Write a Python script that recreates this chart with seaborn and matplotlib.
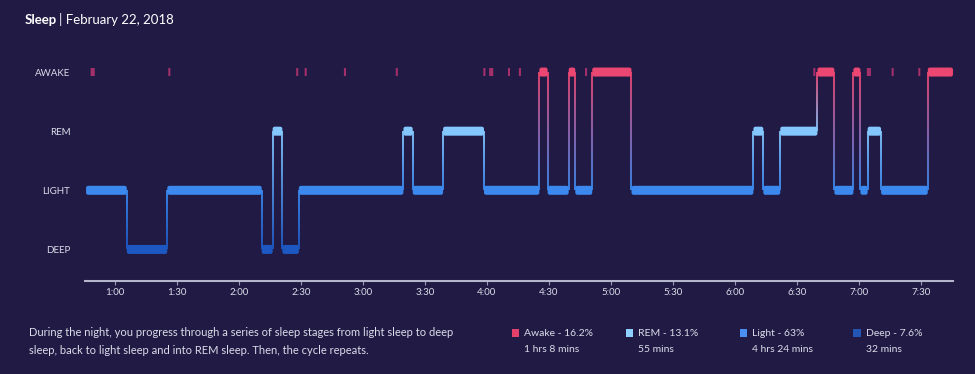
import matplotlib
matplotlib.use("Agg")
import matplotlib.pyplot as plt
from matplotlib.patches import Rectangle
from matplotlib.collections import LineCollection
import numpy as np
import seaborn as sns

# stage rows, bottom to top
stage_names = ["DEEP", "LIGHT", "REM", "AWAKE"]
stage_colors = {"AWAKE": "#ec4672", "REM": "#84c7ff", "LIGHT": "#3b89ef", "DEEP": "#1d58c2"}

# hypnogram: stage of each segment and its start (minutes after midnight)
seg_stage = ["LIGHT", "DEEP", "LIGHT", "DEEP", "REM", "DEEP", "LIGHT", "REM", "LIGHT",
             "REM", "LIGHT", "AWAKE", "LIGHT", "AWAKE", "LIGHT", "AWAKE", "LIGHT", "REM",
             "LIGHT", "REM", "AWAKE", "LIGHT", "AWAKE", "LIGHT", "REM", "LIGHT", "AWAKE"]
seg_start = [46, 65.7, 85.3, 131, 136.3, 141, 149, 199.6, 204.1,
             218.8, 238.6, 265.4, 269.4, 279.6, 282.8, 291, 310, 369,
             373.8, 382, 400, 408.2, 417.4, 420.8, 424.3, 430.8, 453.4]
sleep_end = 465.6

# brief awakenings on the awake row (centre time, length in minutes)
blip_time = [49.2, 86.3, 148.2, 152.3, 171.3, 196.4, 238.8, 242.1, 250.7, 256.0,
             288.0, 398.5, 424.9, 436.4, 449.3]
blip_len = [2.0, 1.0, 1.0, 1.0, 1.0, 1.0, 1.0, 2.0, 1.0, 1.0,
            1.0, 1.0, 2.0, 1.0, 1.0]

tick_labels = ["1:00", "1:30", "2:00", "2:30", "3:00", "3:30", "4:00",
               "4:30", "5:00", "5:30", "6:00", "6:30", "7:00", "7:30"]

legend_names = ["Awake - 16.2%", "REM - 13.1%", "Light - 63%", "Deep - 7.6%"]
legend_mins = ["1 hrs 8 mins", "55 mins", "4 hrs 24 mins", "32 mins"]
legend_colors = ["#e3406b", "#8fd0ff", "#4a8ff2", "#2356b4"]

BG = "#201a44"
TXT = "#dcdcea"
W, H = 975, 374

sns.set_theme(style="dark", rc={"axes.facecolor": BG, "figure.facecolor": BG,
                                "savefig.facecolor": BG})
plt.rcParams["font.family"] = ["Lato", "DejaVu Sans"]


def fx(px):
    return px / W


def fy(py):
    return 1 - py / H


fig = plt.figure(figsize=(W / 100, H / 100), dpi=100)
ax = fig.add_axes([fx(80), fy(281), (960 - 80) / W, (281 - 50) / H])

px_per_min = 2.066
ax.set_xlim(60 + (80 - 115) / px_per_min, 60 + (960 - 115) / px_per_min)
px_per_row = 59
ax.set_ylim(-(281 - 249.5) / px_per_row, 3 + (72 - 50) / px_per_row)

level = {s: i for i, s in enumerate(stage_names)}
seg_end = seg_start[1:] + [sleep_end]

# gradient connectors between stages
n_steps = 40
for i in range(1, len(seg_stage)):
    a, b = seg_stage[i - 1], seg_stage[i]
    ys = np.linspace(level[a], level[b], n_steps + 1)
    t = seg_start[i]
    segs = [[(t, ys[k]), (t, ys[k + 1])] for k in range(n_steps)]
    cols = sns.blend_palette([stage_colors[a], stage_colors[b]], n_steps)
    ax.add_collection(LineCollection(segs, colors=cols, linewidths=1.3, zorder=2))

# stage bands, rounded with a thick joined edge
edge_px = 4
band_px = 9
shrink = edge_px / px_per_min
for s, t0, t1 in zip(seg_stage, seg_start, seg_end):
    c = stage_colors[s]
    ax.barh(level[s], (t1 - t0) - shrink, left=t0 + shrink / 2,
            height=(band_px - edge_px) / px_per_row, color=c, edgecolor=c,
            linewidth=edge_px * 0.72, joinstyle="round", snap=False, zorder=3)

# brief awakenings
for t, d in zip(blip_time, blip_len):
    ax.barh(level["AWAKE"], d, left=t - d / 2, height=8 / px_per_row,
            color="#a3306a", linewidth=0, snap=False, zorder=3)

# axes styling
ax.set_yticks(range(len(stage_names)), stage_names)
ax.tick_params(axis="y", length=0, pad=7, labelsize=7, labelcolor=TXT)
tick_pos = [int(l.split(":")[0]) * 60 + int(l.split(":")[1]) for l in tick_labels]
ax.set_xticks(tick_pos, tick_labels)
ax.tick_params(axis="x", length=3, width=0.8, color="#9a9ab8", direction="out",
               pad=2, labelsize=7, labelcolor=TXT, bottom=True)
ax.grid(False)
for side in ["top", "left", "right"]:
    ax.spines[side].set_visible(False)
ax.spines["bottom"].set_visible(True)
ax.spines["bottom"].set_color("#b4b4cc")
ax.spines["bottom"].set_linewidth(1.5)
ax.spines["bottom"].set_bounds(seg_start[0] - 0.5, sleep_end)

# title
renderer = fig.canvas.get_renderer()
t1 = fig.text(fx(25), fy(20), "Sleep", color="white", fontsize=9.5,
              fontweight="bold", va="center", ha="left")
bb = t1.get_window_extent(renderer)
fig.text(bb.x1 / W + fx(2), fy(20), "| February 22, 2018", color="white",
         fontsize=9.5, va="center", ha="left")

# description
fig.text(fx(29), fy(333), "During the night, you progress through a series of sleep stages "
         "from light sleep to deep", color=TXT, fontsize=8, va="center", ha="left")
fig.text(fx(29), fy(351), "sleep, back to light sleep and into REM sleep. Then, the cycle repeats.",
         color=TXT, fontsize=8, va="center", ha="left")

# legend
leg_x = [515.5, 629.5, 743.5, 857]
sq = 7.5
for x, name, mins, c in zip(leg_x, legend_names, legend_mins, legend_colors):
    fig.add_artist(Rectangle((fx(x - sq / 2), fy(333 + sq / 2)), sq / W, sq / H,
                             transform=fig.transFigure, color=c, linewidth=0))
    fig.text(fx(x + 9), fy(333), name, color=TXT, fontsize=7.5, va="center", ha="left")
    fig.text(fx(x + 9), fy(349), mins, color=TXT, fontsize=7.5, va="center", ha="left")

fig.savefig("out.png", dpi=100, facecolor=BG)
